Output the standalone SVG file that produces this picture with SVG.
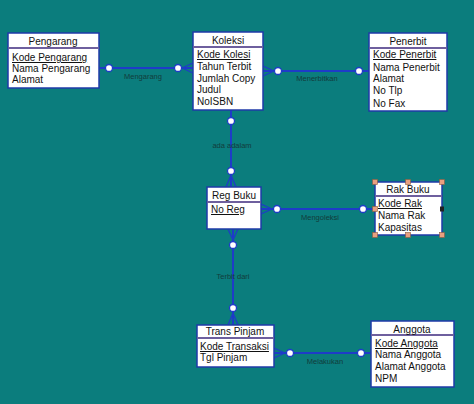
<svg xmlns="http://www.w3.org/2000/svg" width="474" height="404" viewBox="0 0 474 404">
<style>
.box{fill:#ffffff;stroke:#1f3aa8;stroke-width:1.5}
.sep{stroke:#6e5f9e;stroke-width:2}
.t{font-family:"Liberation Sans",Arial,sans-serif;font-size:10px;fill:#111}
.h{text-anchor:middle}
.u{text-decoration:underline}
.ln{stroke:#1e3cc8;stroke-width:2;fill:none}
.cf{stroke:#1e3cc8;stroke-width:1.3;fill:none}
.c{fill:#ffffff;stroke:#1e3cc8;stroke-width:1.3}
.lb{font-family:"Liberation Sans",Arial,sans-serif;font-size:7.5px;fill:#123c3c;text-anchor:middle}
.hd{fill:#e8a080;stroke:#8a5a40;stroke-width:0.6}
</style>
<rect width="474" height="404" fill="#0b7d7d"/>
<g id="connectors">
  <line class="ln" x1="99" y1="68" x2="193" y2="68"/>
  <path class="cf" d="M182,68 L193,63 M182,68 L193,68 M182,68 L193,73"/>
  <circle class="c" cx="109" cy="68" r="3.5"/>
  <circle class="c" cx="178" cy="68" r="3.5"/>
  <text class="lb" x="143" y="79">Mengarang</text>

  <line class="ln" x1="263" y1="71" x2="369" y2="71"/>
  <path class="cf" d="M274,71 L263,66 M274,71 L263,71 M274,71 L263,76"/>
  <circle class="c" cx="278" cy="71" r="3.5"/>
  <circle class="c" cx="359" cy="71" r="3.5"/>
  <text class="lb" x="317" y="81">Menerbitkan</text>

  <line class="ln" x1="231" y1="110" x2="231" y2="187"/>
  <path class="cf" d="M231,175 L226,187 M231,175 L231,187 M231,175 L236,187"/>
  <circle class="c" cx="231" cy="121" r="3.5"/>
  <circle class="c" cx="231" cy="171" r="3.5"/>
  <text class="lb" x="232" y="148">ada adalam</text>

  <line class="ln" x1="261" y1="209" x2="375" y2="209"/>
  <path class="cf" d="M272,209 L261,204 M272,209 L261,209 M272,209 L261,214"/>
  <circle class="c" cx="277" cy="209" r="3.5"/>
  <circle class="c" cx="363" cy="209" r="3.5"/>
  <text class="lb" x="320" y="220">Mengoleksi</text>

  <line class="ln" x1="233" y1="229" x2="233" y2="325"/>
  <path class="cf" d="M233,240 L228,229 M233,240 L233,229 M233,240 L238,229"/>
  <path class="cf" d="M233,313 L228,325 M233,313 L233,325 M233,313 L238,325"/>
  <circle class="c" cx="233" cy="245" r="3.5"/>
  <circle class="c" cx="233" cy="308" r="3.5"/>
  <text class="lb" x="233" y="279">Terbit dari</text>

  <line class="ln" x1="274" y1="353" x2="371" y2="353"/>
  <path class="cf" d="M285,353 L274,348 M285,353 L274,353 M285,353 L274,358"/>
  <circle class="c" cx="290" cy="353" r="3.5"/>
  <circle class="c" cx="361" cy="353" r="3.5"/>
  <text class="lb" x="325" y="364">Melakukan</text>
</g>
<g id="pengarang">
  <rect class="box" x="8" y="33" width="91" height="55"/>
  <line class="sep" x1="8" y1="48" x2="99" y2="48"/>
  <text class="t h" x="53" y="45">Pengarang</text>
  <text class="t u" x="12" y="61">Kode Pengarang</text>
  <text class="t" x="12" y="72">Nama Pengarang</text>
  <text class="t" x="12" y="83">Alamat</text>
</g>
<g id="koleksi">
  <rect class="box" x="193" y="32" width="70" height="78"/>
  <line class="sep" x1="193" y1="47" x2="263" y2="47"/>
  <text class="t h" x="228" y="44">Koleksi</text>
  <text class="t u" x="197" y="58">Kode Kolesi</text>
  <text class="t" x="197" y="70">Tahun Terbit</text>
  <text class="t" x="197" y="82">Jumlah Copy</text>
  <text class="t" x="197" y="93">Judul</text>
  <text class="t" x="197" y="105">NoISBN</text>
</g>
<g id="penerbit">
  <rect class="box" x="369" y="33" width="78" height="78"/>
  <line class="sep" x1="369" y1="48" x2="447" y2="48"/>
  <text class="t h" x="408" y="45">Penerbit</text>
  <text class="t u" x="373" y="58">Kode Penerbit</text>
  <text class="t" x="373" y="71">Nama Penerbit</text>
  <text class="t" x="373" y="82">Alamat</text>
  <text class="t" x="373" y="94">No Tlp</text>
  <text class="t" x="373" y="107">No Fax</text>
</g>
<g id="regbuku">
  <rect class="box" x="207" y="187" width="54" height="42"/>
  <line class="sep" x1="207" y1="202" x2="261" y2="202"/>
  <text class="t h" x="234" y="199">Reg Buku</text>
  <text class="t u" x="211" y="213">No Reg</text>
</g>
<g id="rakbuku">
  <rect class="box" x="375" y="182" width="67" height="53"/>
  <line class="sep" x1="375" y1="196" x2="442" y2="196"/>
  <text class="t h" x="408" y="193">Rak Buku</text>
  <text class="t u" x="378" y="207">Kode Rak</text>
  <text class="t" x="378" y="219">Nama Rak</text>
  <text class="t" x="378" y="231">Kapasitas</text>
  <rect class="hd" x="372.5" y="179.5" width="5" height="5"/>
  <rect class="hd" x="405.5" y="179.5" width="5" height="5"/>
  <rect class="hd" x="439.5" y="179.5" width="5" height="5"/>
  <rect class="hd" x="372.5" y="232.5" width="5" height="5"/>
  <rect class="hd" x="405.5" y="232.5" width="5" height="5"/>
  <rect class="hd" x="439.5" y="232.5" width="5" height="5"/>
  <rect class="hd" x="372.5" y="206.5" width="5" height="5"/>
  <rect x="440" y="206.5" width="4" height="5" fill="#222"/>
</g>
<g id="transpinjam">
  <rect class="box" x="197" y="325" width="77" height="42"/>
  <line class="sep" x1="197" y1="338" x2="274" y2="338"/>
  <text class="t h" x="235" y="335">Trans Pinjam</text>
  <text class="t u" x="200" y="350">Kode Transaksi</text>
  <text class="t" x="200" y="361">Tgl Pinjam</text>
</g>
<g id="anggota">
  <rect class="box" x="371" y="321" width="83" height="66"/>
  <line class="sep" x1="371" y1="335" x2="454" y2="335"/>
  <text class="t h" x="412" y="333">Anggota</text>
  <text class="t u" x="375" y="347">Kode Anggota</text>
  <text class="t" x="375" y="358">Nama Anggota</text>
  <text class="t" x="375" y="370">Alamat Anggota</text>
  <text class="t" x="375" y="382">NPM</text>
</g>
</svg>
